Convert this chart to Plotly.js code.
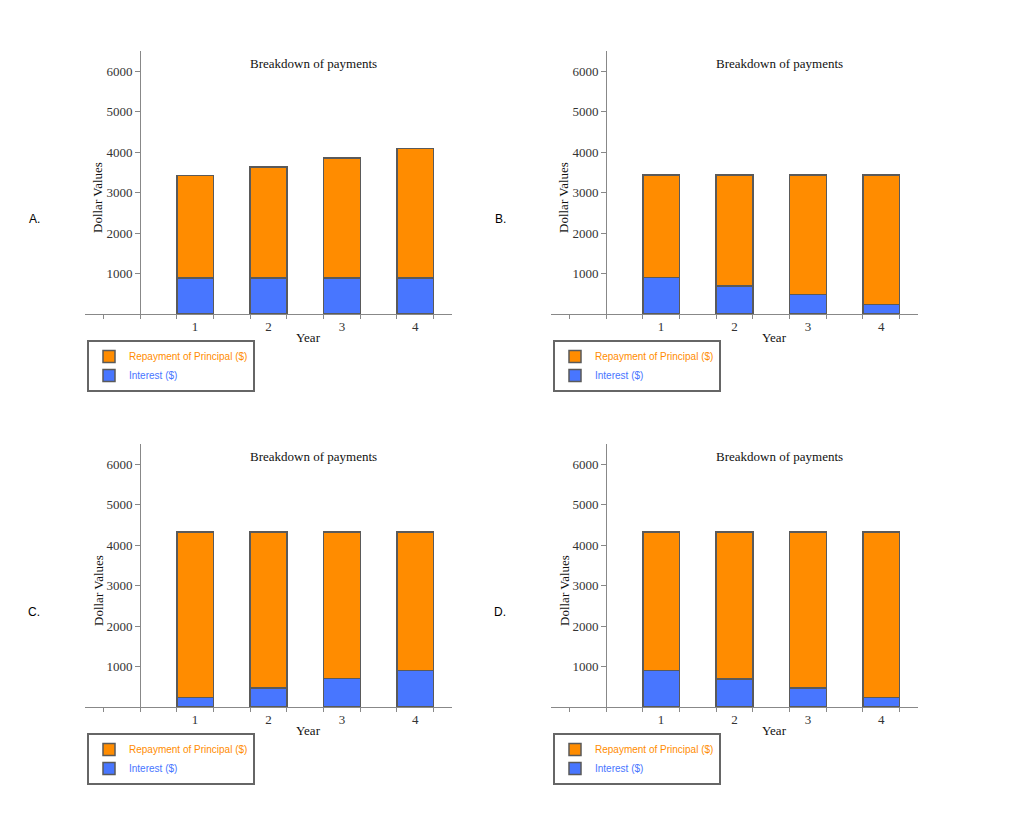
<!DOCTYPE html>
<html>
<head>
<meta charset="utf-8">
<script src="https://cdn.plot.ly/plotly-3.0.1.min.js"></script>
<style>
  html, body { margin: 0; padding: 0; background: #fff; }
  #chart { width: 1013px; height: 826px; }
</style>
</head>
<body>
<div id="chart"></div>
<script>
// Years on the x axis
const years = [1, 2, 3, 4];
const yearLabels = ['1', '2', '3', '4'];

// Option A: constant interest, growing principal
const interestA = [895, 895, 895, 895];
const principalA = [2525, 2740, 2960, 3190];

// Option B: level payment, declining interest
const interestB = [897, 691, 477, 232];
const principalB = [2535, 2741, 2955, 3200];

// Option C: level payment, rising interest
const interestC = [231, 470, 701, 899];
const principalC = [4097, 3858, 3627, 3429];

// Option D: level payment, declining interest
const interestD = [897, 691, 470, 235];
const principalD = [3431, 3637, 3858, 4093];

const optionLetters = ['A.', 'B.', 'C.', 'D.'];
const yTicks = [1000, 2000, 3000, 4000, 5000, 6000];
const xEdgeTicks = [-0.25, 0.25, 0.75, 1.25, 1.75, 2.25, 2.75, 3.25, 3.75, 4.25];

const W = 1013, H = 826;
const ORANGE = '#ff8c00';
const BLUE = '#4876ff';
const SERIF = '"Liberation Serif", "Times New Roman", serif';
const SANS = '"Liberation Sans", Arial, sans-serif';

// Pixel frame of each panel: left/right of the x axis line, top of y axis, baseline
const panels = [
  { left: 85,  right: 452, top: 51,  base: 314, interest: interestA, principal: principalA },
  { left: 551, right: 918, top: 51,  base: 314, interest: interestB, principal: principalB },
  { left: 85,  right: 452, top: 444, base: 707, interest: interestC, principal: principalC },
  { left: 551, right: 918, top: 444, base: 707, interest: interestD, principal: principalD }
];

const XR = [-0.5, 4.5];
const YR = [0, 6500];
const px = v => v / W;
const py = v => (H - v) / H;

const data = [];
const layout = {
  width: W, height: H,
  margin: { l: 0, r: 0, t: 0, b: 0 },
  paper_bgcolor: '#fff', plot_bgcolor: 'rgba(0,0,0,0)',
  barmode: 'stack',
  showlegend: true,
  annotations: []
};

panels.forEach((p, i) => {
  const n = i + 1;
  const xs = n === 1 ? '' : String(n);
  const xo = String(n + 4);       // overlay axes for the inner half of the ticks
  const xName = 'x' + xs, yName = 'y' + xs;
  const legendName = n === 1 ? 'legend' : 'legend' + n;

  const xDom = [px(p.left), px(p.right)];
  const yDom = [py(p.base), py(p.top)];
  const yAxisX = p.left + (0.25 - XR[0]) / (XR[1] - XR[0]) * (p.right - p.left);

  const barLine = { color: 'rgb(90,90,90)', width: 1.5 };
  data.push({
    type: 'bar', x: years, y: p.interest, width: 0.5,
    xaxis: xName, yaxis: yName, legend: legendName,
    name: '<span style="color:' + BLUE + '">Interest ($)</span>',
    marker: { color: BLUE, line: barLine }, hoverinfo: 'y'
  });
  data.push({
    type: 'bar', x: years, y: p.principal, width: 0.5,
    xaxis: xName, yaxis: yName, legend: legendName,
    name: '<span style="color:' + ORANGE + '">Repayment of Principal ($)</span>',
    marker: { color: ORANGE, line: barLine }, hoverinfo: 'y'
  });

  const tickFont = { family: SERIF, size: 13, color: '#333' };

  layout['xaxis' + xs] = {
    domain: xDom, range: XR, anchor: yName,
    showgrid: false, zeroline: false,
    showline: true, linecolor: '#888', linewidth: 1,
    tickmode: 'array', tickvals: years, ticktext: yearLabels, ticks: '',
    tickfont: tickFont,
    minor: { tickmode: 'array', tickvals: xEdgeTicks, ticks: 'outside', ticklen: 4, tickcolor: '#888', tickwidth: 1, showgrid: false },
    fixedrange: true
  };
  layout['yaxis' + xs] = {
    domain: yDom, range: YR, anchor: 'free', position: px(yAxisX),
    showgrid: false, zeroline: false,
    showline: true, linecolor: '#888', linewidth: 1,
    tickmode: 'array', tickvals: yTicks, ticks: 'outside', ticklen: 5,
    tickcolor: '#888', tickwidth: 1, tickfont: tickFont,
    fixedrange: true
  };
  layout['xaxis' + xo] = {
    domain: xDom, range: XR, overlaying: xName, anchor: yName,
    showgrid: false, zeroline: false, showline: false,
    tickmode: 'array', tickvals: xEdgeTicks, ticks: 'inside', ticklen: 4,
    tickcolor: '#888', tickwidth: 1, showticklabels: false, fixedrange: true
  };
  layout['yaxis' + xo] = {
    domain: yDom, range: YR, overlaying: yName, anchor: 'free', position: px(yAxisX),
    showgrid: false, zeroline: false, showline: false,
    tickmode: 'array', tickvals: yTicks, ticks: 'inside', ticklen: 5,
    tickcolor: '#888', tickwidth: 1, showticklabels: false, fixedrange: true
  };

  layout[legendName] = {
    x: px(p.left + 2), y: py(p.base + 26), xanchor: 'left', yanchor: 'top',
    traceorder: 'reversed', bgcolor: '#fff',
    bordercolor: '#666', borderwidth: 2,
    font: { family: SANS, size: 10, color: '#333' },
    itemwidth: 30, tracegroupgap: 0
  };

  const cx = p.left + 228;
  layout.annotations.push(
    { text: 'Breakdown of payments', xref: 'paper', yref: 'paper',
      x: px(cx), y: py(p.top + 12), xanchor: 'center', yanchor: 'middle',
      showarrow: false, font: { family: SERIF, size: 13, color: '#111' } },
    { text: 'Year', xref: 'paper', yref: 'paper',
      x: px(p.left + 223), y: py(p.base + 23), xanchor: 'center', yanchor: 'middle',
      showarrow: false, font: { family: SERIF, size: 13, color: '#111' } },
    { text: 'Dollar Values', xref: 'paper', yref: 'paper', textangle: -90,
      x: px(p.left + 13), y: py(p.base - 116), xanchor: 'center', yanchor: 'middle',
      showarrow: false, font: { family: SERIF, size: 13, color: '#111' } },
    { text: optionLetters[i], xref: 'paper', yref: 'paper',
      x: px(p.left - 51), y: py(p.base - 95), xanchor: 'center', yanchor: 'middle',
      showarrow: false, font: { family: SANS, size: 12, color: '#000' } }
  );
});

Plotly.newPlot('chart', data, layout, { displayModeBar: false, staticPlot: true });
</script>
</body>
</html>
